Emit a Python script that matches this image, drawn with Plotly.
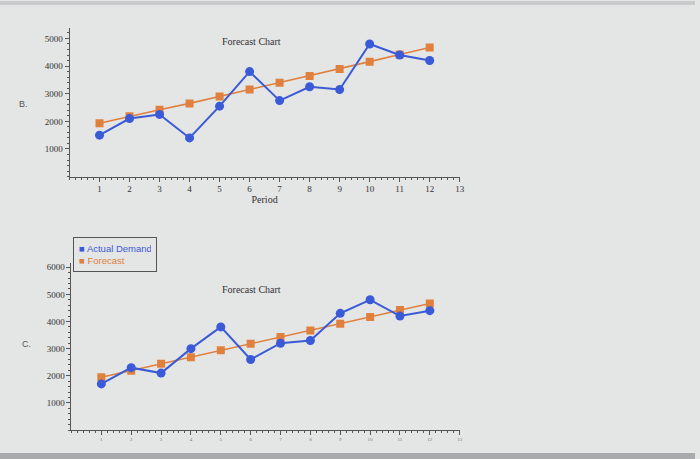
import plotly.graph_objects as go

periods = list(range(1, 13))
actual_b = [1500, 2100, 2250, 1400, 2550, 3800, 2750, 3250, 3150, 4800, 4400, 4200]
forecast_b = [1930, 2180, 2420, 2650, 2900, 3150, 3400, 3640, 3890, 4160, 4420, 4670]
actual_c = [1700, 2300, 2100, 3000, 3800, 2600, 3200, 3300, 4300, 4800, 4200, 4400]
forecast_c = [1945, 2190, 2440, 2680, 2940, 3185, 3430, 3670, 3920, 4165, 4420, 4665]
x_ticks = list(range(1, 14))
y_ticks_b = [1000, 2000, 3000, 4000, 5000]
y_ticks_c = [1000, 2000, 3000, 4000, 5000, 6000]
series_names = ["Actual Demand", "Forecast"]

BLUE = "#3a5ad8"
ORANGE = "#e0803e"
BG = "#e4e5e5"
AXC = "#555555"
SERIF = "Liberation Serif, DejaVu Serif, serif"
SANS = "Liberation Sans, Arial, sans-serif"

fig = go.Figure()

def add_series(xa, ya, act, fc):
    fig.add_trace(go.Scatter(x=periods, y=fc, xaxis=xa, yaxis=ya, mode="lines+markers",
                             name=series_names[1],
                             line=dict(color=ORANGE, width=1.6),
                             marker=dict(symbol="square", size=8, color=ORANGE),
                             showlegend=False))
    fig.add_trace(go.Scatter(x=periods, y=act, xaxis=xa, yaxis=ya, mode="lines+markers",
                             name=series_names[0],
                             line=dict(color=BLUE, width=2),
                             marker=dict(symbol="circle", size=9, color=BLUE),
                             showlegend=False))

add_series("x", "y", actual_b, forecast_b)
add_series("x2", "y2", actual_c, forecast_c)

def xax(domain, anchor, labsize, labcolor, title=None):
    d = dict(domain=domain, anchor=anchor, range=[0, 13], tickvals=x_ticks,
             showgrid=False, zeroline=False, showline=True, linecolor=AXC, linewidth=1,
             ticks="outside", ticklen=4, tickcolor=AXC,
             tickfont=dict(family=SERIF, size=labsize, color=labcolor),
             minor=dict(dtick=0.2, ticks="outside", ticklen=2, tickcolor=AXC))
    if title:
        d["title"] = dict(text=title, font=dict(family=SERIF, size=10, color="#333"), standoff=2)
    return d

def yax(domain, anchor, rng, vals):
    return dict(domain=domain, anchor=anchor, range=rng, tickvals=vals,
                showgrid=False, zeroline=False, showline=True, linecolor=AXC, linewidth=1,
                ticks="outside", ticklen=4, tickcolor=AXC,
                tickfont=dict(family=SERIF, size=9, color="#333"),
                minor=dict(dtick=200, ticks="outside", ticklen=2, tickcolor=AXC))

fig.update_layout(
    width=700, height=459,
    margin=dict(l=0, r=0, t=0, b=0),
    paper_bgcolor=BG, plot_bgcolor=BG,
    xaxis=xax([70/700, 463/700], "y", 9, "#333", "Period"),
    yaxis=yax([1-176/459, 1-27/459], "x", [0, 5380], y_ticks_b),
    xaxis2=xax([72/700, 463/700], "y2", 5, "#777"),
    yaxis2=yax([1-430/459, 1-263/459], "x2", [0, 6140], y_ticks_c),
    showlegend=False,
)

legend_text = ("<span style='color:%s'>■</span> <span style='color:%s'>%s</span><br>"
               "<span style='color:%s'>■</span> <span style='color:%s'>%s</span>"
               % (BLUE, BLUE, series_names[0], ORANGE, ORANGE, series_names[1]))
fig.add_annotation(xref="paper", yref="paper", x=74/700, y=1-237/459, xanchor="left", yanchor="top",
                   text=legend_text, align="left", showarrow=False,
                   font=dict(family=SANS, size=9.5), bordercolor="#555", borderwidth=1,
                   borderpad=5, bgcolor=BG, width=72)

ann = [
    dict(text="Forecast Chart", x=253/700, y=1-33/459, font=dict(family=SERIF, size=10, color="#333")),
    dict(text="Forecast Chart", x=253/700, y=1-289/459, font=dict(family=SERIF, size=10, color="#333")),
    dict(text="B.", x=17/700, y=1-96/459, font=dict(family=SANS, size=9, color="#555")),
    dict(text="C.", x=20/700, y=1-351/459, font=dict(family=SANS, size=9, color="#555")),
]
for a in ann:
    fig.add_annotation(xref="paper", yref="paper", showarrow=False, **a)

fig.add_shape(type="rect", xref="paper", yref="paper", x0=0, x1=1, y0=1-4/459, y1=1,
              fillcolor="#c9cacb", line_width=0, layer="below")
fig.add_shape(type="rect", xref="paper", yref="paper", x0=0, x1=1, y0=0, y1=6/459,
              fillcolor="#a9aaab", line_width=0, layer="below")

fig.write_html("out.html")
